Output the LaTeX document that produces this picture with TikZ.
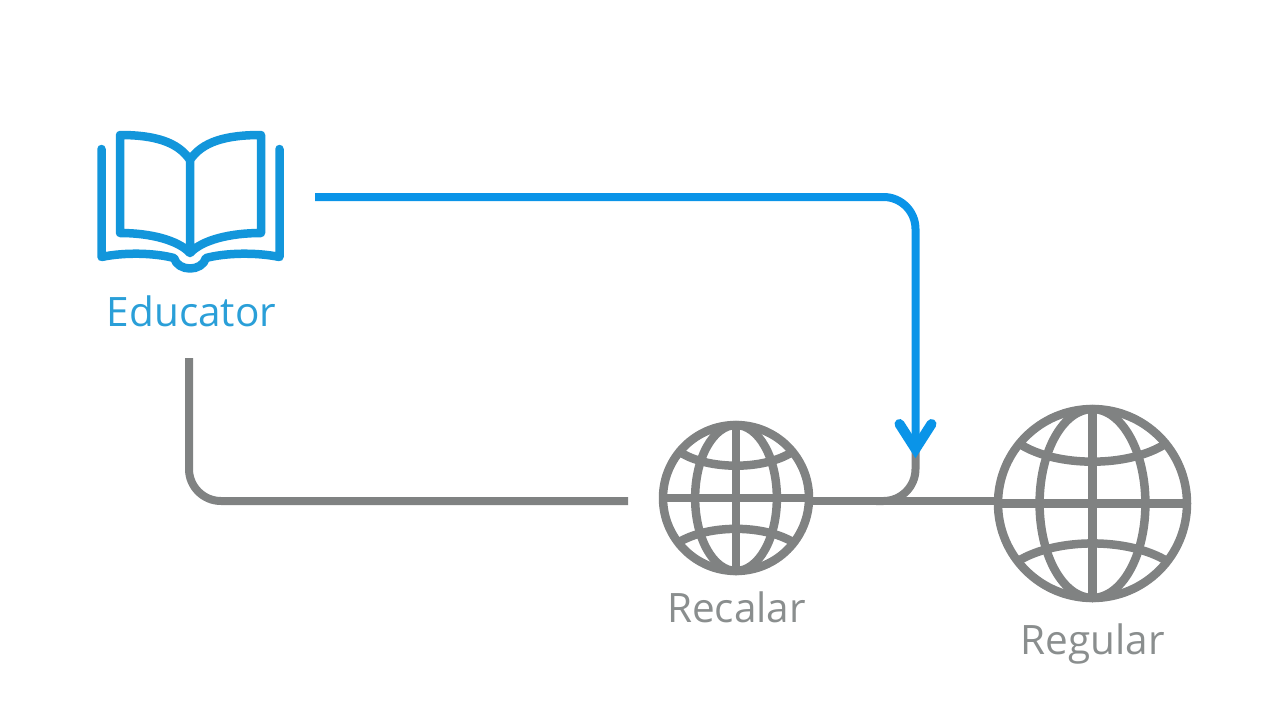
\documentclass[tikz,border=0pt]{standalone}
\usepackage{fontspec}
\setmainfont{Open Sans}
\definecolor{iconblue}{HTML}{1296DB}
\definecolor{arrowblue}{HTML}{0A94E8}
\definecolor{textblue}{HTML}{2A9FD8}
\definecolor{globegray}{HTML}{808282}
\definecolor{textgray}{HTML}{8A8E8E}
\tikzset{
  bookline/.style={draw=iconblue,line width=8.5pt,line cap=round,line join=round},
  globeline/.style={draw=globegray,line width=8.5pt},
  greylink/.style={draw=globegray,line width=8pt,rounded corners=32pt},
  bluelink/.style={draw=arrowblue,line width=8pt,rounded corners=32pt},
  chevron/.style={draw=arrowblue,line width=10pt,line cap=round,line join=miter},
  hub/.style={circle,inner sep=0pt,minimum size=#1,draw=none},
  lab/.style={inner sep=0pt,anchor=base,font=\fontsize{40.5}{40.5}\selectfont},
  pics/globe/.style={code={
    \draw[globeline] (0,0) circle (#1);
    \draw[globeline] (0,0) ellipse ({0.56*#1} and #1);
    \draw[globeline] (0,-#1) -- (0,#1);
    \draw[globeline] (-#1,0) -- (#1,0);
    \draw[globeline] (-0.77*#1,-0.63*#1) .. controls (-0.38*#1,-0.38*#1) and (0.38*#1,-0.38*#1) .. (0.77*#1,-0.63*#1);
    \draw[globeline] (-0.79*#1,0.61*#1) .. controls (-0.38*#1,0.36*#1) and (0.38*#1,0.36*#1) .. (0.79*#1,0.61*#1);
  }}
}
\begin{document}
\begin{tikzpicture}[x=1pt,y=-1pt]
\useasboundingbox (0,0) rectangle (1280,720);
% book icon
\draw[bookline] (101.5,149) -- (101.5,257) .. controls (125,252) and (155,253) .. (174,258)
  .. controls (178,272) and (202,272) .. (206,258) .. controls (225,253) and (255,252) .. (279.5,257) -- (279.5,149);
\draw[bookline] (190,160) .. controls (178,142) and (155,135) .. (120,135) -- (120,233)
  .. controls (150,233) and (178,240) .. (190,253) .. controls (202,240) and (230,233) .. (261,233)
  -- (261,135) .. controls (225,135) and (202,142) .. (190,160) -- (190,253);
\node[lab,text=textblue] (educator) at (191.5,326) {Educator};
\coordinate (bookfoot) at (189,358);
\coordinate (bookside) at (315,197);
% globes
\node[hub=154pt] (recalar) at (736,498) {};
\node[hub=197pt] (regular) at (1092.5,503.5) {};
\pic at (recalar.center) {globe=73};
\pic at (regular.center) {globe=94.5};
\node[lab,text=textgray] (recalarlabel) at (736.5,622) {Recalar};
\node[lab,text=textgray] (regularlabel) at (1092.5,654) {Regular};
% connectors
\coordinate (grayend) at (628,501);
\coordinate (arrowfoot) at (915.5,452);
\coordinate (joint) at (876,501);
\draw[greylink] (bookfoot) |- (grayend);
\draw[draw=globegray,line width=8pt] (recalar.east |- grayend) -- (regular.west |- grayend);
\draw[greylink] (arrowfoot) |- (joint);
\draw[bluelink] (bookside) -| (arrowfoot);
\draw[chevron] (899.5,424) -- (915.5,449) -- (931.5,424);
\end{tikzpicture}
\end{document}
